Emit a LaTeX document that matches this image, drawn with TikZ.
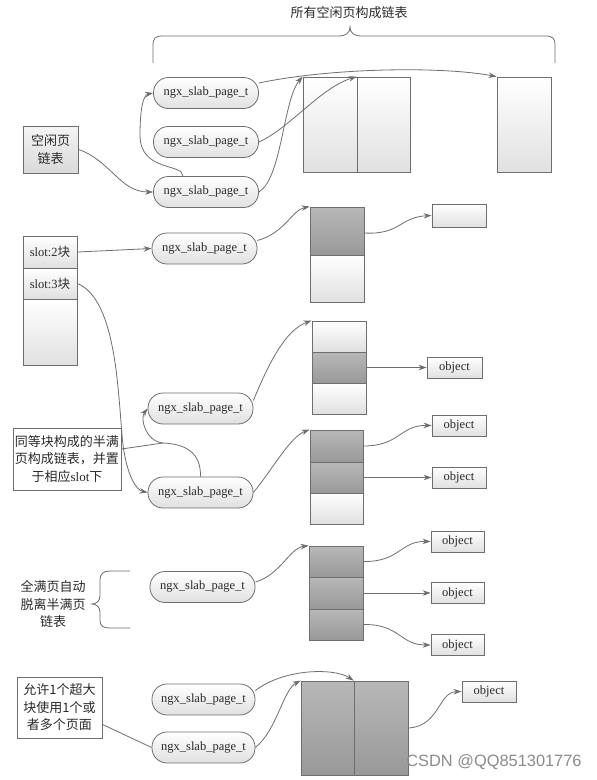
\documentclass[tikz,border=0pt]{standalone}
\usepackage{fontspec}
\setmainfont{Liberation Serif}
\newfontfamily\cjk{Noto Sans CJK SC}
\newfontfamily\wmfont{Liberation Sans}
\usetikzlibrary{arrows.meta,calc}
\definecolor{ln}{HTML}{6E6E6E}
\definecolor{tx}{HTML}{2A2A2A}
\tikzset{
 latf/.style={font=\fontsize{12.5}{14}\selectfont},
 ngx/.style={draw=ln, line width=0.8pt, rounded corners=15pt, minimum width=105pt, minimum height=31pt, top color=white, bottom color=black!12, inner sep=0pt, text=tx, latf},
 lite/.style={draw=ln, line width=0.8pt, top color=white, bottom color=black!12, inner sep=0pt},
 dark/.style={draw=ln, line width=0.8pt, top color=black!28, bottom color=black!40, inner sep=0pt},
 obj/.style={lite, minimum width=54pt, minimum height=21pt, text=tx, latf},
 cell/.style={minimum width=54pt, minimum height=#1},
 conn/.style={draw=ln, line width=0.8pt, -{Stealth[length=8pt,width=5.5pt]}},
 plain/.style={draw=ln, line width=0.8pt},
 note/.style={text=tx, align=center, inner sep=0pt, font=\fontsize{13}{17.5}\selectfont},
 wbox/.style={draw=ln, line width=0.8pt, fill=white, inner sep=0pt},
}
\begin{document}
\begin{tikzpicture}[x=1pt,y=-1pt]
\useasboundingbox (0,0) rectangle (597,780);
\fill[white] (0,0) rectangle (597,780);

% title and top brace
\node[note] (title) at (349,13) {\cjk 所有空闲页构成链表};
\draw[plain] (153,63) -- (153,46) .. controls (153,38) and (155,36) .. (163,36) -- (338,36)
  .. controls (346,36) and (350,33) .. (350,27) .. controls (350,33) and (354,36) .. (362,36)
  -- (545,36) .. controls (553,36) and (555,38) .. (555,46) -- (555,63);

% free list part
\node[ngx] (n1) at (206,93) {ngx\_slab\_page\_t};
\node[ngx] (n2) at (206,142) {ngx\_slab\_page\_t};
\node[ngx] (n3) at (206,192) {ngx\_slab\_page\_t};
\node[lite, top color=black!4, bottom color=black!15, minimum width=55pt, minimum height=47pt, note, font=\fontsize{13}{18.5}\selectfont] (free) at (50.5,149.5) {{\cjk 空闲页}\\{\cjk 链表}};
\node[lite, cell=95pt] (bigA1) at (330,124.5) {};
\node[lite, cell=95pt, minimum width=53pt] (bigA2) at (383.5,124.5) {};
\node[lite, cell=95pt] (bigB) at (524,124.5) {};

\draw[conn] (free.east) .. controls (110,160) and (120,192) .. (n3.west);
\draw[conn] ($(n3.north)+(-23,0)$) .. controls (183,163) and (140,172) .. (140,135)
  .. controls (140,110) and (143,95) .. (n1.west);
\draw[conn] ($(n1.east)+(0,-10)$) .. controls (330,68) and (440,66) .. (bigB.north west);
\draw[conn] (n2.east) .. controls (290,128) and (320,88) .. (bigA2.north west);
\draw[conn] (n3.east) .. controls (282,178) and (283,100) .. (bigA1.north west);

% slots
\node[lite, cell=32pt, note, latf] (slot1) at (50,252) {slot:2{\cjk 块}};
\node[lite, cell=31pt, note, latf] (slot2) at (50,283.5) {slot:3{\cjk 块}};
\node[lite, cell=66pt] (slot3) at (50,332) {};

\node[ngx] (n4) at (204.5,248.5) {ngx\_slab\_page\_t};
\node[dark, cell=48pt] (pA1) at (337,231) {};
\node[lite, cell=47pt] (pA2) at (337,278.5) {};
\node[lite, minimum width=54pt, minimum height=23pt] (small) at (459,215.5) {};
\draw[conn] (slot1.east) -- (n4.west);
\draw[conn] ($(n4.east)+(0,-8)$) .. controls (285,233) and (292,210) .. (pA1.north west);
\draw[conn] ($(pA1.east)+(0,2)$) .. controls (400,235) and (400,217) .. (small.west);

% half full pages
\node[ngx] (n5) at (200.5,408.5) {ngx\_slab\_page\_t};
\node[ngx] (n6) at (200.5,492.5) {ngx\_slab\_page\_t};
\node[wbox, minimum width=108pt, minimum height=62pt, note] (half) at (67,459)
  {{\cjk 同等块构成的半满}\\{\cjk 页构成链表，并置}\\{\cjk 于相应}slot{\cjk 下}};

\node[lite, cell=31pt] (pB1) at (339,336.5) {};
\node[dark, cell=31pt] (pB2) at (339,367.5) {};
\node[lite, cell=31pt] (pB3) at (339,398.5) {};
\node[obj, minimum width=55pt] (objB) at (454.5,367.5) {object};

\node[dark, cell=32pt, minimum width=53pt] (pC1) at (336.5,446) {};
\node[dark, cell=31pt, minimum width=53pt] (pC2) at (336.5,477.5) {};
\node[lite, cell=31pt, minimum width=53pt] (pC3) at (336.5,508.5) {};
\node[obj] (objC1) at (459,425.5) {object};
\node[obj] (objC2) at (459,477.5) {object};

\draw[conn] (slot2.east) .. controls (118,300) and (118,400) .. (123,445)
  .. controls (127,475) and (136,490) .. (n6.west);
\draw[conn] (n6.north) .. controls (201,452) and (185,444) .. coordinate[pos=1] (lp) (163,443)
  .. controls (145,441) and (140,418) .. (n5.west);
\draw[plain] ($(half.east)+(0,-10)$) -- (lp);
\draw[conn] ($(n5.east)+(0,-8)$) .. controls (268,365) and (285,330) .. (pB1.north west);
\draw[conn] (pB2.east) -- (objB.west);
\draw[conn] (n6.east) .. controls (272,470) and (290,437) .. (pC1.north west);
\draw[conn] (pC1.east) .. controls (400,446) and (400,425) .. (objC1.west);
\draw[conn] (pC2.east) -- (objC2.west);

% full pages
\node[note] (fulltxt) at (53,604) {{\cjk 全满页自动}\\{\cjk 脱离半满页}\\{\cjk 链表}};
\draw[plain] (130,571) -- (110,571) .. controls (103,571) and (100,574) .. (100,580) -- (100,596)
  .. controls (100,601) and (96,604) .. (92,604) .. controls (96,604) and (100,607) .. (100,612)
  -- (100,620) .. controls (100,626) and (103,628) .. (110,628) -- (130,628);
\node[ngx] (n7) at (202.5,587) {ngx\_slab\_page\_t};
\node[dark, cell=31pt] (pD1) at (336,561.5) {};
\node[dark, cell=32pt] (pD2) at (336,593) {};
\node[dark, cell=31pt] (pD3) at (336,624.5) {};
\node[obj, minimum width=53pt] (objD1) at (457.5,541.5) {object};
\node[obj, minimum width=53pt] (objD2) at (457.5,593) {object};
\node[obj, minimum width=53pt] (objD3) at (457.5,645) {object};
\draw[conn] ($(n7.east)+(0,-5)$) .. controls (280,575) and (290,548) .. (pD1.north west);
\draw[conn] (pD1.east) .. controls (400,562) and (400,541) .. (objD1.west);
\draw[conn] (pD2.east) -- (objD2.west);
\draw[conn] (pD3.east) .. controls (400,624) and (400,645) .. (objD3.west);

% huge block
\node[wbox, minimum width=85pt, minimum height=61pt, note] (allow) at (59.5,707.5)
  {{\cjk 允许1个超大}\\{\cjk 块使用1个或}\\{\cjk 者多个页面}};
\node[ngx, minimum width=103pt] (n8) at (203.5,699.5) {ngx\_slab\_page\_t};
\node[ngx, minimum width=103pt] (n9) at (203.5,747.5) {ngx\_slab\_page\_t};
\node[dark, cell=94pt, minimum width=53pt] (pE1) at (327.5,728) {};
\node[dark, cell=94pt] (pE2) at (381,728) {};
\node[obj] (objE) at (489,691.5) {object};
\draw[plain] ($(allow.south east)+(0,-14)$) -- (n9.west);
\draw[conn] ($(n8.east)+(0,-9)$) .. controls (285,668) and (335,668) .. (pE2.north west);
\draw[conn] (n9.east) .. controls (277,730) and (283,690) .. (pE1.north west);
\draw[conn] (pE2.east) .. controls (440,726) and (438,692) .. (objE.west);

% watermark
\node[text=black!45, inner sep=0pt, font=\wmfont\fontsize{16.4}{18}\selectfont] (wm) at (494,762) {CSDN @QQ851301776};
\end{tikzpicture}
\end{document}
